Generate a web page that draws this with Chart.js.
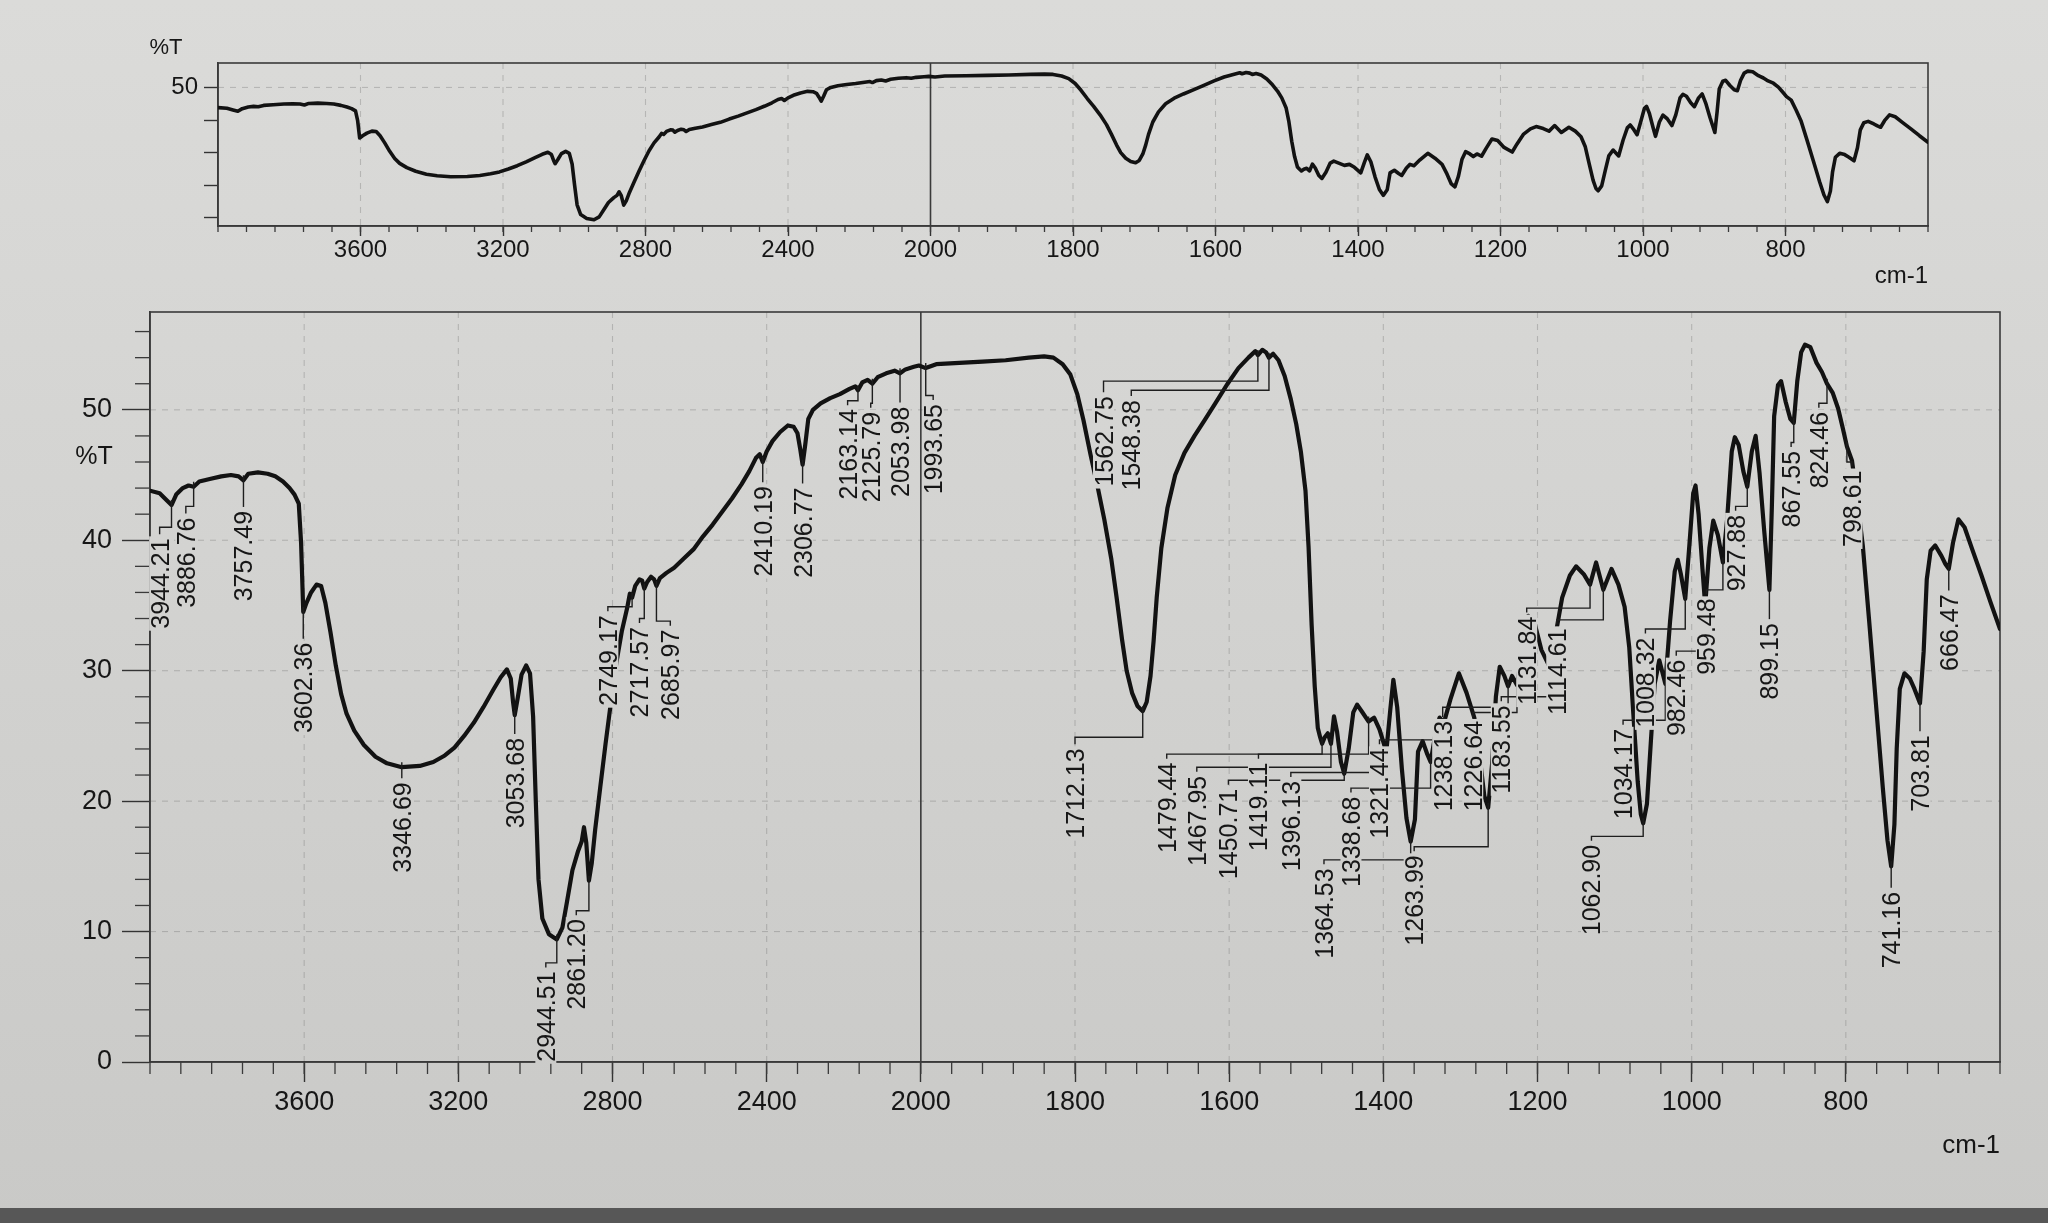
<!DOCTYPE html>
<html>
<head>
<meta charset="utf-8">
<title>FTIR spectrum</title>
<script src="https://cdn.jsdelivr.net/npm/chart.js@4.4.1/dist/chart.umd.min.js"></script>
<style>
  html, body { margin: 0; padding: 0; }
  body {
    width: 2048px; height: 1223px; overflow: hidden; position: relative;
    background: linear-gradient(180deg, #dbdbd9 0%, #d3d3d1 45%, #c9c9c7 100%);
  }
  #overview { position: absolute; left: 0; top: 0; }
  #main { position: absolute; left: 0; top: 250px; }
  .table-edge { position: absolute; left: 0; right: 0; bottom: 0; height: 15px; background: #575757; }
</style>
</head>
<body>
<canvas id="overview" width="2048" height="300"></canvas>
<canvas id="main" width="2048" height="973"></canvas>
<div class="table-edge"></div>
<script>
// spectrum, wavenumber (cm-1) high to low, %T
const wavenumbers = [
  4000, 3975, 3958, 3944.21, 3932, 3915, 3900, 3886.76, 3872, 3845,
  3815, 3790, 3770, 3757.49, 3745, 3720, 3695, 3675, 3655, 3638,
  3625, 3614, 3608, 3602.36, 3594, 3582, 3568, 3556, 3545, 3532,
  3518, 3504, 3490, 3470, 3445, 3415, 3385, 3346.69, 3300, 3265,
  3235, 3210, 3185, 3160, 3135, 3110, 3090, 3074, 3064, 3058,
  3053.68, 3046, 3036, 3024, 3014, 3006, 2999, 2992, 2982, 2965,
  2944.51, 2930, 2918, 2904, 2889, 2880, 2874, 2868, 2861.2, 2854,
  2845, 2832, 2818, 2804, 2790, 2776, 2762, 2755, 2749.17, 2741,
  2730, 2723, 2717.57, 2710, 2700, 2692, 2685.97, 2677, 2660, 2640,
  2615, 2590, 2565, 2540, 2515, 2490, 2465, 2445, 2428, 2418,
  2410.19, 2400, 2385, 2365, 2345, 2330, 2320, 2313, 2306.77, 2300,
  2292, 2280, 2260, 2235, 2210, 2185, 2170, 2163.14, 2152, 2138,
  2125.79, 2112, 2090, 2068, 2053.98, 2040, 2018, 2005, 1993.65, 1980,
  1950, 1920, 1890, 1860, 1840, 1828, 1816, 1806, 1797, 1789,
  1780, 1771, 1762, 1753, 1746, 1739, 1733, 1726, 1719, 1712.13,
  1707, 1702, 1698, 1694, 1688, 1680, 1670, 1658, 1645, 1632,
  1618, 1602, 1588, 1575, 1566, 1562.75, 1557, 1552, 1548.38, 1543,
  1536, 1528, 1520, 1513, 1507, 1501, 1497, 1493, 1489, 1485,
  1482, 1479.44, 1476, 1472, 1467.95, 1464, 1460, 1455, 1450.71, 1445,
  1439, 1434, 1427, 1419.11, 1412, 1405, 1396.13, 1391, 1387, 1382,
  1376, 1370, 1364.53, 1359, 1355, 1349, 1343, 1338.68, 1332, 1327,
  1321.44, 1313, 1302, 1292, 1282, 1275, 1269, 1263.99, 1259, 1254,
  1249, 1243, 1238.13, 1233, 1226.64, 1220, 1212, 1204, 1195, 1183.55,
  1177, 1168, 1158, 1150, 1140, 1131.84, 1124, 1114.61, 1104, 1095,
  1087, 1081, 1076, 1070, 1066, 1062.9, 1058, 1053, 1048, 1042,
  1034.17, 1028, 1022, 1018, 1014, 1008.32, 1003, 998, 995, 991,
  986, 982.46, 977, 972, 966, 959.48, 954, 948, 944, 939,
  933, 927.88, 922, 917, 912, 906, 899.15, 896, 893, 888,
  884, 878, 872, 867.55, 863, 858, 853, 846, 838, 831,
  824.46, 817, 810, 804, 798.61, 792, 785, 778, 770, 761,
  752, 746, 741.16, 737, 734, 730, 724, 717, 711, 703.81,
  699, 695, 690, 684, 676, 671, 666.47, 661, 654, 646,
  636, 624, 612, 600
];
const transmittance = [
  43.8, 43.6, 43.1, 42.7, 43.5, 44.0, 44.2, 44.1, 44.5, 44.7,
  44.9, 45.0, 44.9, 44.6, 45.1, 45.2, 45.1, 44.9, 44.5, 44.0,
  43.5, 42.8, 39.8, 34.5, 35.2, 36.0, 36.6, 36.5, 35.2, 33.0,
  30.4, 28.2, 26.7, 25.4, 24.3, 23.4, 22.9, 22.6, 22.7, 23.0,
  23.5, 24.1, 25.0, 26.0, 27.2, 28.5, 29.5, 30.1, 29.4, 27.6,
  26.6, 27.9, 29.7, 30.4, 29.8, 26.5, 20.0, 14.0, 11.0, 9.8,
  9.4, 10.3, 12.3, 14.7, 16.2, 16.9, 18.0, 16.8, 13.9, 15.2,
  17.8, 21.0, 24.4, 27.6, 30.6, 33.0, 34.8, 35.9, 35.6, 36.5,
  37.0, 36.9, 36.3, 36.8, 37.2, 37.0, 36.5, 37.1, 37.5, 37.9,
  38.6, 39.3, 40.3, 41.2, 42.2, 43.2, 44.3, 45.3, 46.3, 46.6,
  46.0, 46.8, 47.6, 48.3, 48.8, 48.7, 48.2, 47.0, 45.8, 47.3,
  49.3, 50.0, 50.5, 50.9, 51.2, 51.6, 51.8, 51.5, 52.1, 52.3,
  52.0, 52.5, 52.8, 53.0, 52.8, 53.1, 53.3, 53.4, 53.2, 53.5,
  53.6, 53.7, 53.8, 54.0, 54.1, 54.0, 53.5, 52.7, 51.2, 49.2,
  46.6, 44.2, 41.6, 38.6, 35.6, 32.4, 30.0, 28.3, 27.3, 26.9,
  27.6, 29.6, 32.3, 35.6, 39.4, 42.5, 45.0, 46.7, 48.0, 49.2,
  50.5, 52.0, 53.2, 54.0, 54.5, 54.2, 54.6, 54.4, 54.0, 54.3,
  53.8, 52.6, 50.8, 48.9, 46.8, 43.8, 39.5, 33.5, 28.8, 25.6,
  24.9, 24.4, 24.9, 25.2, 24.4, 26.5, 25.3, 23.0, 22.1, 24.0,
  26.8, 27.4, 26.8, 26.1, 26.4, 25.5, 23.8, 27.0, 29.3, 27.2,
  22.5, 18.7, 16.9, 18.6, 23.8, 24.6, 23.6, 23.0, 25.3, 26.4,
  26.0, 27.8, 29.8, 28.3, 26.4, 23.4, 20.4, 19.5, 22.8, 28.0,
  30.3, 29.6, 28.8, 29.6, 28.9, 31.4, 34.2, 33.7, 31.6, 30.2,
  32.6, 35.6, 37.3, 38.0, 37.4, 36.6, 38.3, 36.2, 37.8, 36.6,
  34.9, 31.8, 27.0, 21.5, 19.0, 18.3, 19.8, 24.5, 29.0, 30.8,
  29.0, 33.8, 37.6, 38.5, 37.4, 35.5, 39.6, 43.6, 44.2, 42.0,
  37.8, 35.0, 39.4, 41.5, 40.4, 38.3, 41.6, 46.8, 47.9, 47.3,
  45.3, 44.1, 46.8, 48.0, 45.2, 40.8, 36.2, 42.5, 49.5, 51.9,
  52.2, 50.6, 49.3, 49.0, 52.2, 54.4, 55.0, 54.8, 53.6, 52.9,
  52.0, 51.3, 50.1, 48.6, 47.2, 46.1, 43.0, 39.6, 34.0, 27.5,
  21.0, 17.0, 15.0, 18.2, 24.0, 28.6, 29.8, 29.4, 28.6, 27.5,
  31.5, 37.0, 39.2, 39.6, 38.8, 38.2, 37.8, 39.8, 41.6, 41.0,
  39.3, 37.3, 35.2, 33.2
];

// peak table printed on the main panel
const peakWavenumbers = [
  3944.21, 3886.76, 3757.49, 3602.36, 3346.69, 3053.68, 2944.51, 2861.20,
  2749.17, 2717.57, 2685.97, 2410.19, 2306.77, 2163.14, 2125.79, 2053.98,
  1993.65, 1712.13, 1562.75, 1548.38, 1479.44, 1467.95, 1450.71, 1419.11,
  1396.13, 1364.53, 1338.68, 1321.44, 1263.99, 1238.13, 1226.64, 1183.55,
  1131.84, 1114.61, 1062.90, 1034.17, 1008.32, 982.46, 959.48, 927.88,
  899.15, 867.55, 824.46, 798.61, 741.16, 703.81, 666.47
];

// where each peak label stands: [text column cm-1, top of text %T, leader elbow %T or null]
const labelPlacement = [
  [3975, 40.3, 41.0], [3907, 41.9, 42.6], [3757.49, 42.4, null], [3602.36, 32.3, null],
  [3346.69, 21.6, null], [3053.68, 25.0, null], [2973, 7.1, 7.6], [2894, 11.1, 11.6],
  [2812, 34.4, 34.9], [2730, 33.5, 34.0], [2650, 33.3, 33.8], [2410.19, 44.3, null],
  [2306.77, 44.2, null], [2190, 50.2, 50.7], [2130, 50.0, 50.5], [2053.98, 50.4, null],
  [1984, 50.6, 51.1], [1800, 24.2, 24.9], [1763, 51.2, 52.2], [1727, 50.9, 51.5],
  [1681, 23.1, 23.6], [1642, 22.1, 22.6], [1601, 21.1, 21.6], [1562, 23.1, 23.6],
  [1520, 21.7, 22.2], [1477, 15.0, 15.5], [1442, 20.5, 21.0], [1405, 24.2, 24.7],
  [1360, 16.0, 16.5], [1323, 26.3, 27.2], [1284, 26.3, 26.8], [1247, 27.5, 28.0],
  [1214, 34.3, 34.8], [1175, 33.4, 33.9], [1130, 16.8, 17.3], [1089, 25.7, 26.2],
  [1060, 32.7, 33.2], [1020, 31.0, 31.5], [981, 35.7, 36.2], [943, 42.1, 42.6],
  [899.15, 33.8, null], [871, 47.0, 47.5], [835, 50.0, 50.5], [792, 45.5, 46.0],
  [741.16, 13.2, null], [703.81, 25.2, null], [666.47, 36.0, null]
];

const xTickWavenumbers = [3600, 3200, 2800, 2400, 2000, 1800, 1600, 1400, 1200, 1000, 800];
const mainTicksT = [0, 10, 20, 30, 40, 50];
const overviewTicksT = [10, 20, 30, 40, 50];

const FONT = '"Liberation Sans", Arial, sans-serif';
const INK = '#161616';

// the printout halves the scale above 2000 cm-1
const toU = w => (w >= 2000 ? (4000 - w) / 2 : 1000 + (2000 - w));
const fromU = u => (u <= 1000 ? 4000 - 2 * u : 3000 - u);

const points = wavenumbers.map((w, i) => ({ x: toU(w), y: transmittance[i] }));

function strokeLine(ctx, x1, y1, x2, y2) {
  ctx.beginPath();
  ctx.moveTo(x1, y1);
  ctx.lineTo(x2, y2);
  ctx.stroke();
}

// box, dashed grid, 2000 divider, minor ticks and the %T caption
const framePlugin = {
  id: 'frame',
  beforeDatasetsDraw(chart, args, o) {
    const { ctx, chartArea: a, scales: { x, y } } = chart;
    ctx.save();
    ctx.lineWidth = 1.1;
    ctx.strokeStyle = 'rgba(80,80,80,0.26)';
    ctx.setLineDash([6, 6]);
    o.gridT.forEach(v => {
      const py = y.getPixelForValue(v);
      strokeLine(ctx, a.left, py, a.right, py);
    });
    xTickWavenumbers.forEach(w => {
      if (w === 2000) return;
      const px = x.getPixelForValue(toU(w));
      strokeLine(ctx, px, a.top, px, a.bottom);
    });
    ctx.setLineDash([]);

    ctx.strokeStyle = '#3a3a3a';
    ctx.lineWidth = 1.6;
    const p2000 = x.getPixelForValue(toU(2000));
    strokeLine(ctx, p2000, a.top, p2000, a.bottom);
    ctx.strokeRect(a.left, a.top, a.right - a.left, a.bottom - a.top);

    ctx.lineWidth = 1.3;
    for (let u = 0; u <= 2400; u += 40) {
      const px = x.getPixelForValue(u);
      strokeLine(ctx, px, a.bottom, px, a.bottom + o.minorX);
    }
    if (o.minorY) {
      for (let v = 2; v < y.max; v += 2) {
        if (v % 10 === 0) continue;
        const py = y.getPixelForValue(v);
        strokeLine(ctx, a.left - o.minorY, py, a.left, py);
      }
    }

    ctx.fillStyle = INK;
    ctx.font = o.unitSize + 'px ' + FONT;
    ctx.textAlign = 'center';
    ctx.textBaseline = 'middle';
    ctx.fillText('%T', a.left + o.unitAt[0], a.top + o.unitAt[1]);
    ctx.restore();
  }
};

// rotated peak labels with leaders; the text boxes knock the trace out like the printout does
const peakLabelPlugin = {
  id: 'peakLabels',
  afterDatasetsDraw(chart) {
    const { ctx, scales: { x, y } } = chart;
    const items = peakWavenumbers.map((w, i) => {
      const [lw, top, elbow] = labelPlacement[i];
      const t = transmittance[wavenumbers.indexOf(w)];
      return {
        text: w.toFixed(2),
        px: x.getPixelForValue(toU(w)),
        py: y.getPixelForValue(t),
        lx: x.getPixelForValue(toU(lw)),
        ly: y.getPixelForValue(top),
        ey: elbow == null ? null : y.getPixelForValue(elbow)
      };
    });

    ctx.save();
    ctx.strokeStyle = '#1e1e1e';
    ctx.lineWidth = 1.4;
    items.forEach(b => {
      ctx.beginPath();
      ctx.moveTo(b.lx, b.ly - 2);
      if (b.ey != null) {
        ctx.lineTo(b.lx, b.ey);
        ctx.lineTo(b.px, b.ey);
      }
      ctx.lineTo(b.px, b.py - 5);
      ctx.stroke();
    });

    ctx.font = '25px ' + FONT;
    items.forEach(b => {
      const w = ctx.measureText(b.text).width;
      ctx.save();
      ctx.translate(b.lx, b.ly);
      ctx.rotate(-Math.PI / 2);
      ctx.globalCompositeOperation = 'destination-out';
      ctx.fillRect(-w - 4, -10.5, w + 4, 21);
      ctx.globalCompositeOperation = 'source-over';
      ctx.fillStyle = INK;
      ctx.textAlign = 'right';
      ctx.textBaseline = 'alphabetic';
      ctx.fillText(b.text, -2, 9);
      ctx.restore();
    });
    ctx.restore();
  }
};

function xScale(o) {
  return {
    type: 'linear',
    min: 0,
    max: 2400,
    afterBuildTicks: s => { s.ticks = xTickWavenumbers.map(w => ({ value: toU(w) })); },
    afterFit: s => { s.height = o.height; },
    ticks: {
      callback: v => String(Math.round(fromU(v))),
      font: { family: FONT, size: o.fontSize },
      color: INK,
      padding: o.pad,
      maxRotation: 0,
      autoSkip: false
    },
    grid: { drawOnChartArea: false, drawTicks: true, tickLength: o.tick, color: '#333', tickWidth: 1.4 },
    border: { display: true, color: '#3a3a3a', width: 1.6 },
    title: {
      display: true,
      text: 'cm-1',
      align: 'end',
      color: INK,
      font: { family: FONT, size: o.titleSize },
      padding: { top: 0, bottom: o.titleBottom }
    }
  };
}

function yScale(o) {
  return {
    min: o.min,
    max: o.max,
    afterBuildTicks: s => { s.ticks = o.ticks.map(v => ({ value: v })); },
    afterFit: s => { s.width = o.width; },
    ticks: { callback: o.label, font: { family: FONT, size: o.fontSize }, color: INK, padding: o.pad },
    grid: { drawOnChartArea: false, drawTicks: true, tickLength: o.tick, color: '#333', tickWidth: 1.4 },
    border: { display: true, color: '#3a3a3a', width: 1.6 }
  };
}

function traceDataset(width) {
  return {
    data: points,
    borderColor: '#121212',
    borderWidth: width,
    pointRadius: 0,
    tension: 0,
    borderJoinStyle: 'round',
    borderCapStyle: 'round',
    fill: false
  };
}

// overview strip at the top of the sheet
new Chart(document.getElementById('overview'), {
  type: 'line',
  data: { datasets: [traceDataset(3.6)] },
  options: {
    responsive: false,
    animation: false,
    events: [],
    layout: { padding: { top: 63, right: 120, bottom: 0, left: 0 } },
    plugins: {
      legend: { display: false },
      tooltip: { enabled: false },
      frame: { gridT: [50], minorX: 6, minorY: 0, unitSize: 22, unitAt: [-52, -15] }
    },
    scales: {
      x: xScale({ height: 74, fontSize: 24, pad: 0, tick: 10, titleSize: 24, titleBottom: 9 }),
      y: yScale({ min: 7.5, max: 57.5, ticks: overviewTicksT, width: 218, fontSize: 24, pad: 6, tick: 14,
                  label: v => (v === 50 ? '50' : '') })
    }
  },
  plugins: [framePlugin]
});

// main annotated spectrum
new Chart(document.getElementById('main'), {
  type: 'line',
  data: { datasets: [traceDataset(4.2)] },
  options: {
    responsive: false,
    animation: false,
    events: [],
    layout: { padding: { top: 62, right: 48, bottom: 0, left: 0 } },
    plugins: {
      legend: { display: false },
      tooltip: { enabled: false },
      frame: { gridT: [10, 20, 30, 40, 50], minorX: 12, minorY: 15, unitSize: 25, unitAt: [-56, 145] }
    },
    scales: {
      x: xScale({ height: 161, fontSize: 27, pad: 4, tick: 20, titleSize: 26, titleBottom: 62 }),
      y: yScale({ min: 0, max: 57.5, ticks: mainTicksT, width: 150, fontSize: 27, pad: 10, tick: 28,
                  label: v => String(v) })
    }
  },
  plugins: [framePlugin, peakLabelPlugin]
});
</script>
</body>
</html>
